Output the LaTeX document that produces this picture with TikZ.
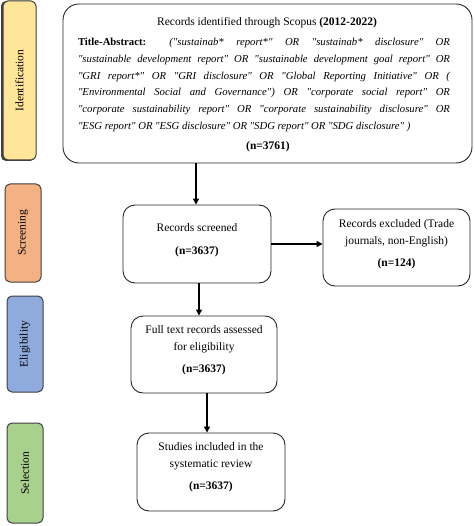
\documentclass[tikz,border=0pt]{standalone}
\usepackage{fontspec}
\setmainfont[Ligatures=TeXOff]{Liberation Serif}
\usetikzlibrary{arrows.meta}
\begin{document}
\begin{tikzpicture}[x=1pt,y=-1pt,
  phase/.style={draw=black!75,line width=1pt,rounded corners=5pt,inner sep=0pt},
  plabel/.style={rotate=90,inner sep=0pt,font=\fontsize{11.5}{13}\selectfont},
  stagebox/.style={draw=black!85,line width=0.9pt,rounded corners=12pt,inner sep=0pt},
  txt/.style={inner sep=0pt,align=center,font=\fontsize{11.5}{17}\selectfont},
  arr/.style={-{Triangle[length=6pt,width=6pt]},line width=1.2pt,black}]
\useasboundingbox (0,0) rectangle (474,526);
% phase boxes
\fill[black!75,rounded corners=5pt] (1,1) rectangle (35,161);
\node[phase,fill={rgb,255:red,255;green,230;blue,153},minimum width=33pt,minimum height=159pt] (pid) at (19.5,80.5) {};
\node[plabel] (lid) at (pid.center) {Identification};
\node[phase,fill={rgb,255:red,244;green,177;blue,131},minimum width=36pt,minimum height=98pt] (psc) at (23,233) {};
\node[plabel] (lsc) at (psc.center) {Screening};
\node[phase,fill={rgb,255:red,143;green,170;blue,220},minimum width=36pt,minimum height=96pt] (pel) at (25,344) {};
\node[plabel] (lel) at (pel.center) {Eligibility};
\node[phase,fill={rgb,255:red,169;green,209;blue,142},minimum width=36pt,minimum height=100pt] (pse) at (25,473) {};
\node[plabel] (lse) at (pse.center) {Selection};
% main box
\node[stagebox,rounded corners=16pt,minimum width=409pt,minimum height=159pt] (main) at (267.5,83.5) {};
\node[txt] (mt) at (267,23) {Records identified through Scopus \textbf{(2012-2022)}};
\node[inner sep=0pt,text width=372pt,align=justify,font=\fontsize{10.7}{16.8}\selectfont] (mb) at (264,85)
{\textbf{Title-Abstract:} \textit{("sustainab* report*" OR "sustainab* disclosure" OR\linebreak "sustainable development report" OR "sustainable development goal report" OR\linebreak "GRI report*" OR "GRI disclosure" OR "Global Reporting Initiative" OR (\linebreak "Environmental Social and Governance") OR "corporate social report" OR\linebreak "corporate sustainability report" OR "corporate sustainability disclosure" OR\linebreak "ESG report" OR "ESG disclosure" OR "SDG report" OR "SDG disclosure" )}};
\node[txt] (mn) at (268,147) {\textbf{(n=3761)}};
% screened
\node[stagebox,minimum width=148pt,minimum height=78pt] (scr) at (197,244) {};
\node[txt] (scrt) at (197,228) {Records screened};
\node[txt] (scrn) at (197,252) {\textbf{(n=3637)}};
% excluded
\node[stagebox,minimum width=147pt,minimum height=77pt] (exc) at (396.5,247.5) {};
\node[txt] (exct) at (396.5,233.5) {Records excluded (Trade\\journals, non-English)};
\node[txt] (excn) at (396.5,264) {\textbf{(n=124)}};
% full text
\node[stagebox,minimum width=146pt,minimum height=77pt] (ful) at (204,354.5) {};
\node[txt] (fult) at (204,339.5) {Full text records assessed\\for eligibility};
\node[txt] (fuln) at (204,370) {\textbf{(n=3637)}};
% studies
\node[stagebox,minimum width=148pt,minimum height=78pt] (stu) at (211,472) {};
\node[txt] (stut) at (211,456.5) {Studies included in the\\systematic review};
\node[txt] (stun) at (211,487) {\textbf{(n=3637)}};
% arrows
\draw[arr] (main.south -| 196,0) -- (196,0 |- scr.north);
\draw[arr] (scr.east) -- (scr.east -| exc.west);
\draw[arr] (199,0 |- scr.south) -- (199,0 |- ful.north);
\draw[arr] (207,0 |- ful.south) -- (207,0 |- stu.north);
\end{tikzpicture}
\end{document}
